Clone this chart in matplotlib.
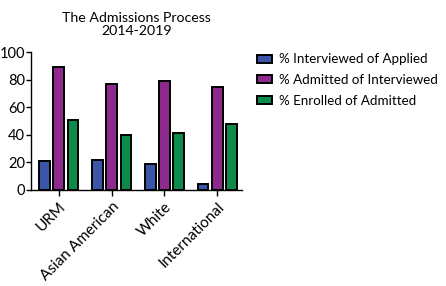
import numpy as np
import matplotlib.pyplot as plt
from matplotlib.patches import Patch

groups = ["URM", "Asian American", "White", "International"]
interviewed = [21, 22, 19, 4]
admitted = [89, 77, 79, 75]
enrolled = [51, 40, 41, 48]
series = ["% Interviewed of Applied", "% Admitted of Interviewed", "% Enrolled of Admitted"]
colors = ["#3B55A8", "#8E2A8E", "#0E8A4A"]

plt.rcParams['font.family'] = ['Lato', 'DejaVu Sans']

fig = plt.figure(figsize=(4.46, 2.86), dpi=100)
ax = fig.add_axes([0.069, 0.336, 0.474, 0.482])

x = np.arange(len(groups))
w = 0.2
off = 0.27
for i, vals in enumerate([interviewed, admitted, enrolled]):
    ax.bar(x + (i - 1) * off, vals, w, color=colors[i], edgecolor='black', linewidth=1.4)

ax.set_xlim(-0.53, 3.47)
ax.set_ylim(0, 100)
ax.set_yticks([0, 20, 40, 60, 80, 100])
ax.set_xticks(x)
ax.set_xticklabels(groups, rotation=45, ha='right', rotation_mode='anchor', fontsize=11)
ax.tick_params(axis='y', labelsize=10.5, length=3.5, width=1, pad=0.5)
ax.tick_params(axis='x', length=4, width=1, pad=3)
for s in ['top', 'right']:
    ax.spines[s].set_visible(False)
ax.spines['left'].set_linewidth(1)
ax.spines['bottom'].set_linewidth(1)
ax.set_title("The Admissions Process\n2014-2019", fontsize=10.2, pad=12, linespacing=1.15)

handles = [Patch(facecolor=c, edgecolor='black', linewidth=1.4) for c in colors]
fig.legend(handles, series, loc='upper left', bbox_to_anchor=(0.55, 0.855), frameon=False,
           fontsize=9.6, handlelength=1.1, handleheight=0.55, labelspacing=0.65, handletextpad=0.5)

plt.savefig('out.png', dpi=100)
